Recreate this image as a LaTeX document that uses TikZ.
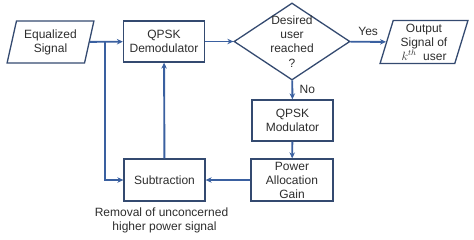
\documentclass[tikz,border=0pt]{standalone}
\usepackage{fontspec}
\setmainfont{Liberation Sans}
\usepackage{tikz}
\usetikzlibrary{arrows.meta, positioning, shapes.geometric, calc}
\usepackage{xcolor}
\definecolor{azulborda}{RGB}{52, 74, 112}
\definecolor{azulseta}{RGB}{58, 96, 160}
\definecolor{cinzatexto}{RGB}{45, 45, 45}
\tikzset{
  caixa/.style={
    draw=azulborda, line width=1.3pt, minimum width=81pt, minimum height=41pt,
    font=\fontsize{12}{14}\selectfont, text=cinzatexto, align=center, inner sep=2pt
  },
  caixaIO/.style={caixa, trapezium, trapezium left angle=75, trapezium right angle=105,
    trapezium stretches=true, minimum width=87pt, minimum height=42pt},
  caixaDec/.style={draw=azulborda, line width=1.3pt, diamond, inner sep=0pt,
    minimum width=116pt, minimum height=77pt},
  seta/.style={-{Stealth[length=6pt, width=5.5pt]}, line width=1.9pt, azulseta},
}
\begin{document}
\begin{tikzpicture}[
    x=1pt, y=-1pt,
    rotulo/.style={
        font=\fontsize{12}{14}\selectfont,
        text=cinzatexto,
        align=center
    }
]
\useasboundingbox (0,0) rectangle (474,239);

% Linha de cima
\node[caixaIO] (eq) at (50.5,42) {Equalized\\Signal};
\node[caixa] (demod) at (164,41.5) {QPSK\\Demodulator};
\node[caixaDec] (dec) at (292,41.5) {};
\node[rotulo, font=\fontsize{12}{14.2}\selectfont] (decTxt) at (dec.center) {Desired\\user\\reached\\?};
\node[caixaIO, minimum width=88pt, minimum height=43pt] (out) at (424,42) {Output\\Signal of\\$k^{th}$\ \ user};

% Ramo de baixo
\node[caixa] (mod) at (292.5,120.5) {QPSK\\Modulator};
\node[caixa, minimum width=82pt, minimum height=42pt] (pag) at (292,180) {Power\\Allocation\\Gain};
\node[caixa, minimum height=42pt] (sub) at (164.5,180) {Subtraction};
\node[rotulo, below=3pt of sub, xshift=-3pt, font=\fontsize{12}{13.5}\selectfont] (nota)
  {Removal of unconcerned\\\hspace*{6pt}higher power signal};

% Setas
\coordinate (split) at ($(eq.east)!0.45!(demod.west)$);
\draw[seta] (eq) -- (demod);
\draw[seta] (split) |- (sub);
\draw[seta] (sub) -- (demod);
\draw[seta] (demod) -- (dec);
\draw[seta] (dec) -- node[rotulo, above=2pt] (sim) {Yes} (out);
\draw[seta] (dec) -- node[rotulo, right=3pt] (nao) {No} (mod);
\draw[seta] (mod) -- (pag);
\draw[seta] (pag) -- (sub);

\end{tikzpicture}
\end{document}
